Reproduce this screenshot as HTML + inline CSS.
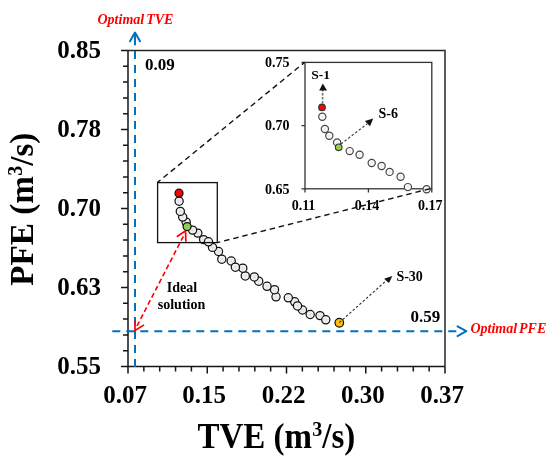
<!DOCTYPE html><html><head><meta charset="utf-8"><style>html,body{margin:0;padding:0;background:#fff;}svg{display:block;}text{font-family:"Liberation Serif","Times New Roman",serif;font-weight:bold;}</style></head><body>
<svg width="550" height="459" viewBox="0 0 550 459">
<path d="M128 50.5H445V366.5" fill="none" stroke="#262626" stroke-width="1.5"/>
<path d="M128 50.5V366.5H445" fill="none" stroke="#161616" stroke-width="1.5"/>
<path d="M121 366.50H128M123 350.70H128M123 334.90H128M123 319.10H128M123 303.30H128M121 287.50H128M123 271.70H128M123 255.90H128M123 240.10H128M123 224.30H128M121 208.50H128M123 192.70H128M123 176.90H128M123 161.10H128M123 145.30H128M121 129.50H128M123 113.70H128M123 97.90H128M123 82.10H128M123 66.30H128M121 50.50H128M128.00 366.5V373.5M143.85 366.5V371.5M159.70 366.5V371.5M175.55 366.5V371.5M191.40 366.5V371.5M207.25 366.5V373.5M223.10 366.5V371.5M238.95 366.5V371.5M254.80 366.5V371.5M270.65 366.5V371.5M286.50 366.5V373.5M302.35 366.5V371.5M318.20 366.5V371.5M334.05 366.5V371.5M349.90 366.5V371.5M365.75 366.5V373.5M381.60 366.5V371.5M397.45 366.5V371.5M413.30 366.5V371.5M429.15 366.5V371.5M445.00 366.5V373.5" stroke="#161616" stroke-width="1.5" fill="none"/>
<text x="101" y="374.2" font-size="25" text-anchor="end">0.55</text>
<text x="101" y="295.2" font-size="25" text-anchor="end">0.63</text>
<text x="101" y="216.2" font-size="25" text-anchor="end">0.70</text>
<text x="101" y="137.2" font-size="25" text-anchor="end">0.78</text>
<text x="101" y="58.2" font-size="25" text-anchor="end">0.85</text>
<text x="125.0" y="402.6" font-size="25" text-anchor="middle">0.07</text>
<text x="204.2" y="402.6" font-size="25" text-anchor="middle">0.15</text>
<text x="283.5" y="402.6" font-size="25" text-anchor="middle">0.22</text>
<text x="362.8" y="402.6" font-size="25" text-anchor="middle">0.30</text>
<text x="442.0" y="402.6" font-size="25" text-anchor="middle">0.37</text>
<text transform="translate(197.5,447.6) scale(1,1.06)" font-size="33">TVE (m<tspan dx="0.3" dy="-10.5" font-size="20">3</tspan><tspan dx="0" dy="10.5">/s)</tspan></text>
<text transform="translate(32.8,285.8) rotate(-90) scale(1,1.04)" font-size="33.2">PFE (m<tspan dx="0.3" dy="-10.5" font-size="20">3</tspan><tspan dx="0" dy="10.5">/s)</tspan></text>
<line x1="135" y1="367" x2="135" y2="37" stroke="#0070C0" stroke-width="2" stroke-dasharray="8 6" stroke-dashoffset="0"/>
<path d="M135 44.5V33M130 41.3L135 32.6L140 41.3" stroke="#0070C0" stroke-width="2" fill="none" stroke-linecap="round" stroke-linejoin="round"/>
<line x1="112.3" y1="331.2" x2="460" y2="331.2" stroke="#0070C0" stroke-width="2" stroke-dasharray="8 6"/>
<path d="M457.5 326.3L466.3 331.2L457.5 336.1" stroke="#0070C0" stroke-width="2" fill="none" stroke-linecap="round" stroke-linejoin="round"/>
<text x="97.5" y="23.6" font-size="14" font-style="italic" word-spacing="-1.5" fill="#FF0000">Optimal TVE</text>
<text x="470.4" y="332.7" font-size="14" font-style="italic" word-spacing="-1.5" fill="#FF0000">Optimal PFE</text>
<text x="145" y="69.8" font-size="17">0.09</text>
<text x="410.5" y="321.8" font-size="17">0.59</text>
<line x1="137" y1="326" x2="184" y2="235" stroke="#FF0000" stroke-width="1.6" stroke-dasharray="5 3"/>
<path d="M135 320.5L135 330.5L144.1 324.9M176.8 236.7L185.5 230.9L185.9 241.8" stroke="#FF0000" stroke-width="1.7" fill="none"/>
<text x="182" y="292" font-size="14" text-anchor="middle">Ideal</text>
<text x="181.5" y="308.8" font-size="14" text-anchor="middle">solution</text>
<defs><radialGradient id="g2"><stop offset="0" stop-color="#e6e6e6"/><stop offset="0.6" stop-color="#fafafa"/><stop offset="1" stop-color="#ffffff"/></radialGradient><radialGradient id="g3"><stop offset="0" stop-color="#dedede"/><stop offset="0.55" stop-color="#efefef"/><stop offset="1" stop-color="#fdfdfd"/></radialGradient><radialGradient id="g1"><stop offset="0" stop-color="#e2e2e2"/><stop offset="0.75" stop-color="#f4f4f4"/><stop offset="1" stop-color="#fcfcfc"/></radialGradient></defs>
<circle cx="320.0" cy="315.6" r="4.1" fill="url(#g3)" stroke="#111" stroke-width="1.25"/>
<circle cx="325.8" cy="319.8" r="4.1" fill="url(#g3)" stroke="#111" stroke-width="1.25"/>
<circle cx="310.2" cy="314.5" r="4.1" fill="url(#g3)" stroke="#111" stroke-width="1.25"/>
<circle cx="302.5" cy="310.0" r="4.1" fill="url(#g3)" stroke="#111" stroke-width="1.25"/>
<circle cx="294.7" cy="301.8" r="4.1" fill="url(#g3)" stroke="#111" stroke-width="1.25"/>
<circle cx="297.5" cy="305.9" r="4.1" fill="url(#g3)" stroke="#111" stroke-width="1.25"/>
<circle cx="288.3" cy="297.8" r="4.1" fill="url(#g3)" stroke="#111" stroke-width="1.25"/>
<circle cx="276.0" cy="296.8" r="4.1" fill="url(#g3)" stroke="#111" stroke-width="1.25"/>
<circle cx="274.5" cy="289.7" r="4.1" fill="url(#g3)" stroke="#111" stroke-width="1.25"/>
<circle cx="267.0" cy="286.3" r="4.1" fill="url(#g3)" stroke="#111" stroke-width="1.25"/>
<circle cx="258.7" cy="281.2" r="4.1" fill="url(#g3)" stroke="#111" stroke-width="1.25"/>
<circle cx="254.3" cy="276.9" r="4.1" fill="url(#g3)" stroke="#111" stroke-width="1.25"/>
<circle cx="245.3" cy="275.9" r="4.1" fill="url(#g3)" stroke="#111" stroke-width="1.25"/>
<circle cx="242.8" cy="268.2" r="4.1" fill="url(#g3)" stroke="#111" stroke-width="1.25"/>
<circle cx="231.2" cy="261.0" r="4.1" fill="url(#g3)" stroke="#111" stroke-width="1.25"/>
<circle cx="235.4" cy="267.2" r="4.1" fill="url(#g3)" stroke="#111" stroke-width="1.25"/>
<circle cx="221.8" cy="259.2" r="4.1" fill="url(#g3)" stroke="#111" stroke-width="1.25"/>
<circle cx="218.5" cy="251.5" r="4.1" fill="url(#g3)" stroke="#111" stroke-width="1.25"/>
<circle cx="212.5" cy="247.4" r="4.1" fill="url(#g3)" stroke="#111" stroke-width="1.25"/>
<circle cx="203.6" cy="239.6" r="4.1" fill="url(#g3)" stroke="#111" stroke-width="1.25"/>
<circle cx="208.5" cy="241.8" r="4.1" fill="url(#g3)" stroke="#111" stroke-width="1.25"/>
<circle cx="197.8" cy="233.1" r="4.1" fill="url(#g3)" stroke="#111" stroke-width="1.25"/>
<circle cx="192.6" cy="230.1" r="4.1" fill="url(#g3)" stroke="#111" stroke-width="1.25"/>
<circle cx="186.2" cy="222.2" r="4.1" fill="url(#g3)" stroke="#111" stroke-width="1.25"/>
<circle cx="182.7" cy="217.1" r="4.1" fill="url(#g3)" stroke="#111" stroke-width="1.25"/>
<circle cx="180.3" cy="211.4" r="4.1" fill="url(#g3)" stroke="#111" stroke-width="1.25"/>
<circle cx="179.1" cy="201.2" r="4.1" fill="url(#g3)" stroke="#111" stroke-width="1.25"/>
<circle cx="179.0" cy="193.2" r="4.0" fill="#FF0000" stroke="#111" stroke-width="1.25"/>
<circle cx="187.1" cy="226.6" r="4.0" fill="#92D050" stroke="#111" stroke-width="1.25"/>
<circle cx="339.3" cy="322.7" r="4.3" fill="#FFC000" stroke="#111" stroke-width="1.25"/>
<rect x="157.6" y="182.6" width="59.7" height="60" fill="none" stroke="#111" stroke-width="1.3"/>
<line x1="339.3" y1="322.7" x2="387" y2="280" stroke="#333" stroke-width="1.1" stroke-dasharray="2.5 2"/>
<path d="M392.3 276L384.1 278.8L389 282.9Z" fill="#111"/>
<text x="396.4" y="281.3" font-size="14">S-30</text>
<rect x="305" y="62.4" width="126.8" height="126.4" fill="none" stroke="#333" stroke-width="1.3"/>
<path d="M301.5 188.8H305M301.5 125.6H305M301.5 62.4H305M305.0 188.8V192.5M368.4 188.8V192.5M431.8 188.8V192.5" stroke="#333" stroke-width="1.3" fill="none"/>
<text x="289.5" y="193.6" font-size="14" text-anchor="end">0.65</text>
<text x="289.5" y="130.4" font-size="14" text-anchor="end">0.70</text>
<text x="289.5" y="67.2" font-size="14" text-anchor="end">0.75</text>
<text x="303.5" y="209.6" font-size="14" text-anchor="middle">0.11</text>
<text x="366.9" y="209.6" font-size="14" text-anchor="middle">0.14</text>
<text x="430.3" y="209.6" font-size="14" text-anchor="middle">0.17</text>
<circle cx="322.3" cy="116.8" r="3.6" fill="url(#g2)" stroke="#444" stroke-width="1.2"/>
<circle cx="324.9" cy="129.0" r="3.6" fill="url(#g2)" stroke="#444" stroke-width="1.2"/>
<circle cx="329.3" cy="135.8" r="3.6" fill="url(#g2)" stroke="#444" stroke-width="1.2"/>
<circle cx="337.1" cy="142.4" r="3.6" fill="url(#g2)" stroke="#444" stroke-width="1.2"/>
<circle cx="349.7" cy="151.1" r="3.6" fill="url(#g2)" stroke="#444" stroke-width="1.2"/>
<circle cx="359.6" cy="154.8" r="3.6" fill="url(#g2)" stroke="#444" stroke-width="1.2"/>
<circle cx="371.7" cy="163.0" r="3.6" fill="url(#g2)" stroke="#444" stroke-width="1.2"/>
<circle cx="381.6" cy="166.0" r="3.6" fill="url(#g2)" stroke="#444" stroke-width="1.2"/>
<circle cx="389.6" cy="171.9" r="3.6" fill="url(#g2)" stroke="#444" stroke-width="1.2"/>
<circle cx="400.6" cy="176.8" r="3.6" fill="url(#g2)" stroke="#444" stroke-width="1.2"/>
<circle cx="407.9" cy="187.1" r="3.6" fill="url(#g2)" stroke="#444" stroke-width="1.2"/>
<circle cx="426.6" cy="189.3" r="3.6" fill="url(#g2)" stroke="#444" stroke-width="1.2"/>
<circle cx="322.0" cy="107.4" r="3.3" fill="#FF0000" stroke="#333" stroke-width="1.1"/>
<circle cx="338.7" cy="147.3" r="3.3" fill="#92D050" stroke="#333" stroke-width="1.1"/>
<path d="M157.3 182.6L304.3 62.6" stroke="#111" stroke-width="1.4" stroke-dasharray="5.5 3.9" stroke-dashoffset="1.4" fill="none"/>
<path d="M217.3 242.6L432 188.2" stroke="#111" stroke-width="1.4" stroke-dasharray="5.5 3.9" stroke-dashoffset="2.4" fill="none"/>
<line x1="322.6" y1="103.5" x2="322.6" y2="90" stroke="#777" stroke-width="1.7" stroke-dasharray="2.5 1.5"/>
<path d="M322.8 83.4L319.2 90.6L327 90.6Z" fill="#111"/>
<text x="311.2" y="79.1" font-size="13.5">S-1</text>
<line x1="341" y1="144" x2="367.5" y2="123.6" stroke="#444" stroke-width="1.1" stroke-dasharray="2.5 2"/>
<path d="M373.2 118.5L364.9 121.1L370 126.2Z" fill="#111"/>
<text x="378.5" y="117.9" font-size="14">S-6</text>
</svg></body></html>
